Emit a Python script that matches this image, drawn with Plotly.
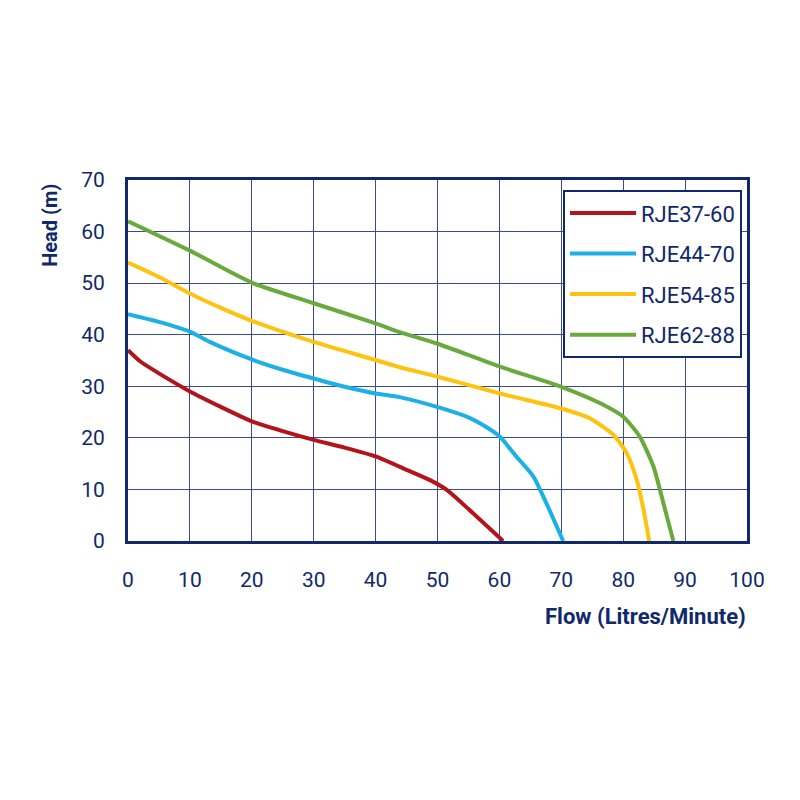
import plotly.graph_objects as go

names = ["RJE37-60", "RJE44-70", "RJE54-85", "RJE62-88"]
colors = ["#B3141B", "#1DB0E8", "#FFC20F", "#6AAA3C"]

red_x = [0, 2, 5, 10, 15, 20, 25, 30, 35, 40, 45, 48.8, 51.5, 55, 60.6]
red_y = [37, 34.8, 32.5, 29, 26, 23.2, 21.3, 19.6, 18.1, 16.4, 13.8, 11.8, 9.9, 6.2, 0]

blue_x = [0, 5, 10, 13.2, 20, 25, 30, 35, 40, 43.9, 49.9, 54.7, 58, 60.1, 61.5, 62.8, 65.5, 67.6, 70.3]
blue_y = [44, 42.5, 40.6, 38.6, 35.2, 33.2, 31.5, 29.9, 28.6, 27.9, 26.0, 24.1, 22, 20.2, 18.2, 16.3, 12.5, 7.3, 0]

yellow_x = [0, 5, 10, 15, 20, 30, 40, 43.9, 49.9, 60.1, 70.0, 74.6, 78.4, 80.6, 82.2, 83.3, 84.2]
yellow_y = [54, 51.2, 48.0, 45.2, 42.7, 38.6, 35.1, 33.7, 31.9, 28.6, 25.7, 23.8, 20.6, 17.0, 11.8, 6.0, 0]

green_x = [0, 10, 20, 30, 40, 43.9, 49.9, 60.1, 70.0, 76.3, 80.0, 82.7, 84.9, 86.5, 88.1]
green_y = [62, 56.3, 50.1, 46.1, 42.2, 40.5, 38.3, 33.8, 29.9, 26.7, 24.1, 20.2, 14.4, 7.3, 0]

series_x = [red_x, blue_x, yellow_x, green_x]
series_y = [red_y, blue_y, yellow_y, green_y]

x_ticks = [0, 10, 20, 30, 40, 50, 60, 70, 80, 90, 100]
y_ticks = [0, 10, 20, 30, 40, 50, 60, 70]

navy = "#10296B"
font_fam = "Roboto, Arial"

fig = go.Figure()
for i in range(4):
    fig.add_trace(go.Scatter(
        x=series_x[i], y=series_y[i], mode="lines", name=names[i],
        line=dict(color=colors[i], width=4, shape="spline", smoothing=0.6),
        legendgroup=names[i],
    ))

fig.update_layout(
    width=800, height=800,
    margin=dict(l=128, r=53, t=180, b=259),
    paper_bgcolor="white", plot_bgcolor="white",
    font=dict(family=font_fam, color=navy, size=20),
    showlegend=True,
    legend=dict(
        x=0.992, y=0.972, xanchor="right", yanchor="top",
        bordercolor=navy, borderwidth=2, bgcolor="white",
        font=dict(family=font_fam, size=22, color=navy),
        tracegroupgap=9, itemwidth=66,
    ),
    xaxis=dict(
        range=[0, 100], tickvals=x_ticks, ticktext=[str(v) for v in x_ticks],
        showgrid=True, gridcolor="#3B4C8C", gridwidth=1,
        showline=True, linecolor=navy, linewidth=3, mirror=True,
        zeroline=False, ticks="outside", ticklen=0, ticklabelstandoff=18,
        tickfont=dict(size=21, color=navy),
    ),
    yaxis=dict(
        range=[0, 70], tickvals=y_ticks, ticktext=[str(v) for v in y_ticks],
        showgrid=True, gridcolor="#3B4C8C", gridwidth=1,
        showline=True, linecolor=navy, linewidth=3, mirror=True,
        zeroline=False, ticks="outside", ticklen=0, ticklabelstandoff=16,
        tickfont=dict(size=21, color=navy),
    ),
    annotations=[
        dict(text="<b>Flow (Litres/Minute)</b>", xref="paper", yref="paper",
             x=1.002, y=-0.21, xanchor="right", yanchor="middle", showarrow=False,
             font=dict(size=22, color=navy, family=font_fam)),
        dict(text="<b>Head (m)</b>", xref="paper", yref="paper",
             x=-0.126, y=0.873, xanchor="center", yanchor="middle", showarrow=False,
             textangle=-90, font=dict(size=20, color=navy, family=font_fam)),
    ],
)

fig.write_html("out.html")
